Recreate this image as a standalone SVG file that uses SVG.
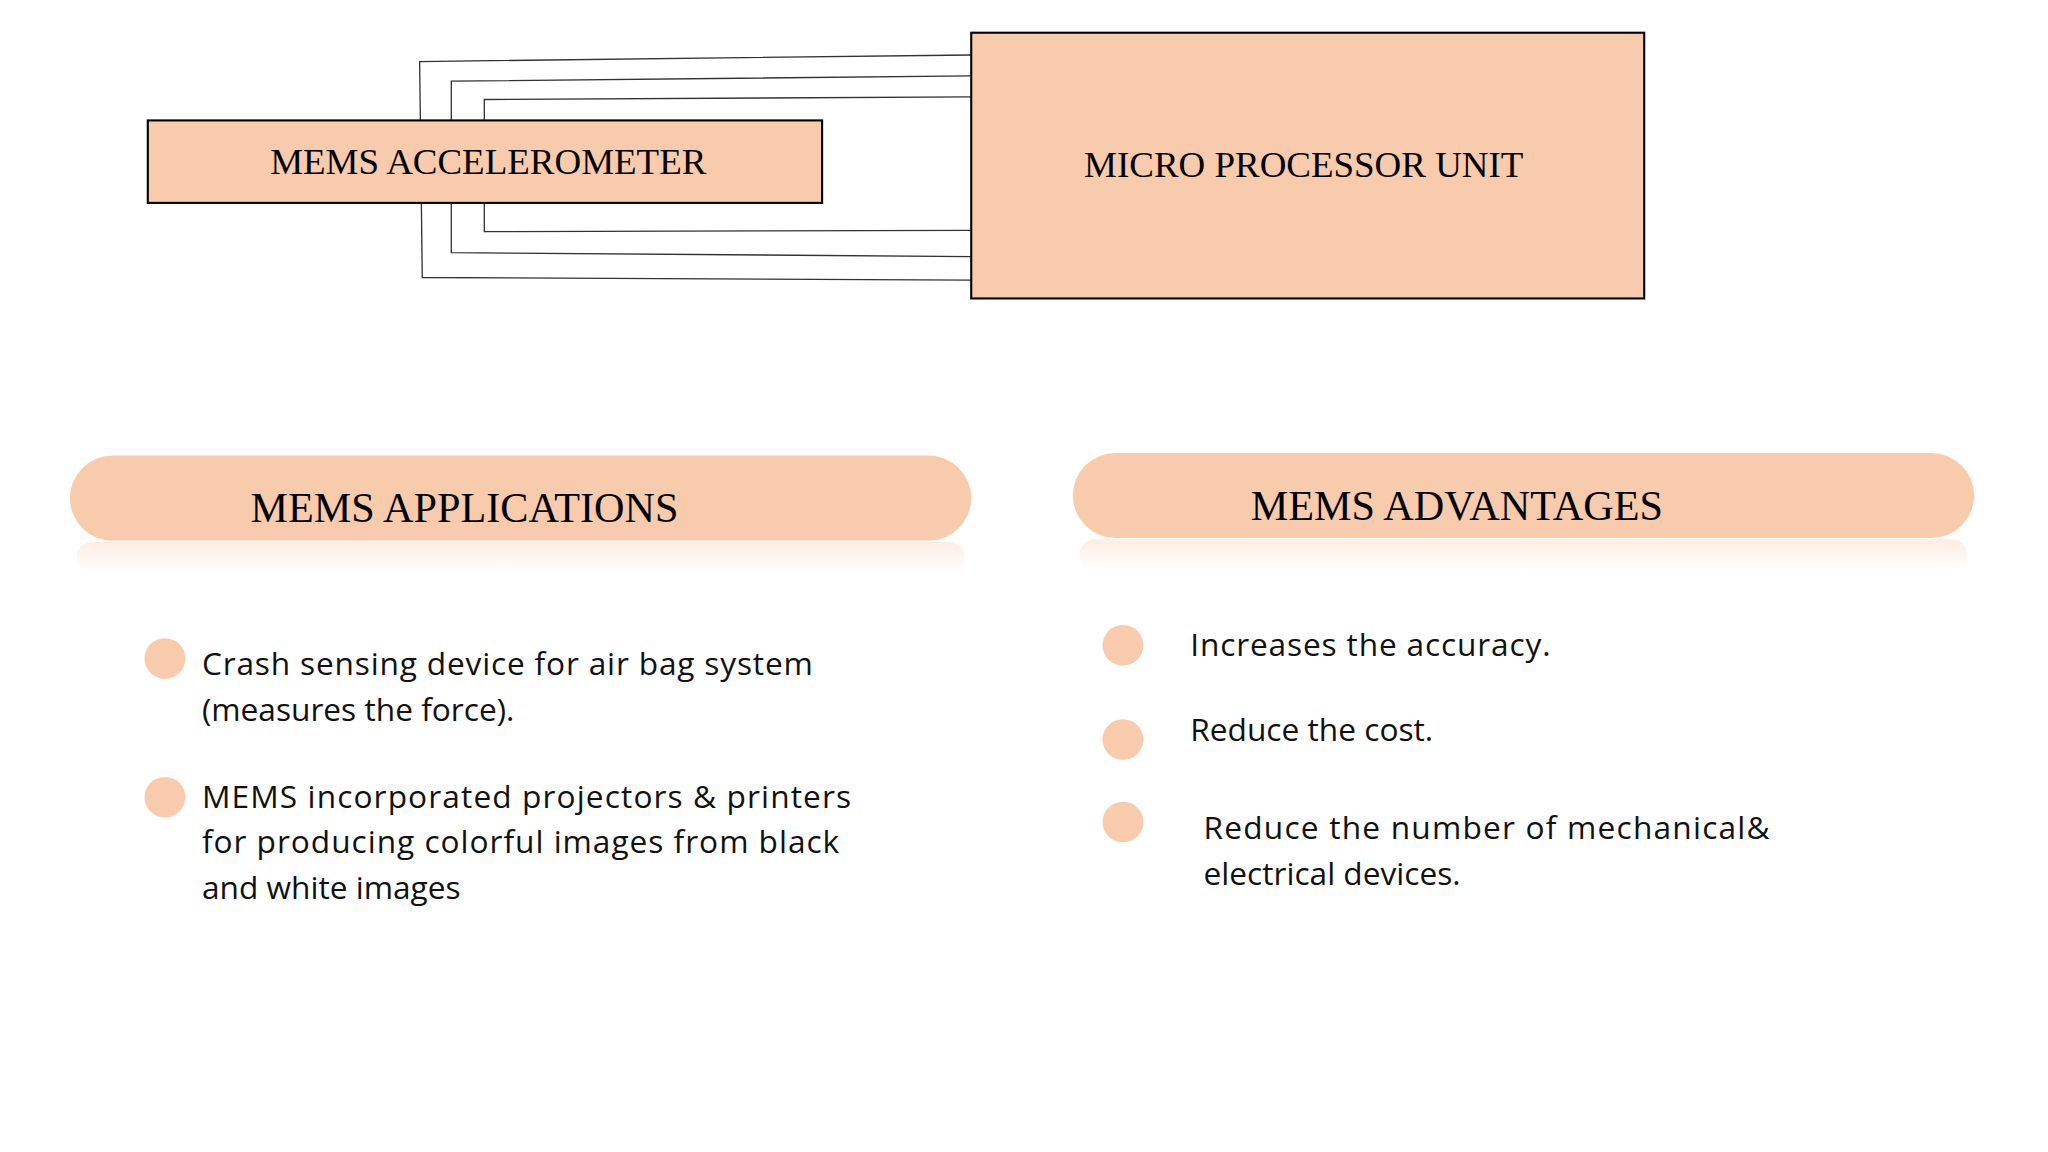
<svg xmlns="http://www.w3.org/2000/svg" width="2048" height="1152" viewBox="0 0 2048 1152">
<style>
.box{fill:#F8CBAD;stroke:#000;stroke-width:1.6}
.pill{fill:#F8CBAD}
.ser{font-family:"Liberation Serif",serif;fill:#000}
.san{font-family:"Open Sans","Noto Sans",sans-serif;font-size:24px;fill:#111}
.w{fill:none;stroke:#333;stroke-width:1}
.dot{fill:#F8CBAD}
</style>
<defs>
<linearGradient id="refl" x1="0" y1="0" x2="0" y2="1">
<stop offset="0" stop-color="#F8CBAD" stop-opacity="0.35"/>
<stop offset="1" stop-color="#F8CBAD" stop-opacity="0"/>
</linearGradient>
</defs>
<rect width="2048" height="1152" fill="#fff"/>
<g transform="scale(1.3196,1.309)">
<g id="connectors">
<polyline class="w" points="736,42 318,47 320,212 736,214"/>
<polyline class="w" points="736,58 342,62 342,193 736,196"/>
<polyline class="w" points="736,74 367,76 367,177 736,176"/>
</g>
<g id="accel">
<rect class="box" x="112" y="92" width="511" height="63"/>
<text class="ser" x="370" y="133" font-size="28" text-anchor="middle">MEMS ACCELEROMETER</text>
</g>
<g id="mpu">
<rect class="box" x="736" y="25" width="510" height="203"/>
<text class="ser" x="988" y="135" font-size="28" text-anchor="middle">MICRO PROCESSOR UNIT</text>
</g>
<g id="applications">
<rect x="58" y="414" width="673" height="24" rx="12" fill="url(#refl)"/>
<rect class="pill" x="53" y="348" width="683" height="65" rx="32.5"/>
<text class="ser" x="352" y="399" font-size="32" text-anchor="middle">MEMS APPLICATIONS</text>
<circle class="dot" cx="125" cy="503" r="15.5"/>
<text class="san" x="153" y="516" textLength="463">Crash sensing device for air bag system</text>
<text class="san" x="153" y="551">(measures the force).</text>
<circle class="dot" cx="125" cy="609" r="15.5"/>
<text class="san" x="153" y="617" textLength="492">MEMS incorporated projectors &amp; printers</text>
<text class="san" x="153" y="652" textLength="483">for producing colorful images from black</text>
<text class="san" x="153" y="687">and white images</text>
</g>
<g id="advantages">
<rect x="818" y="412" width="673" height="24" rx="12" fill="url(#refl)"/>
<rect class="pill" x="813" y="346" width="683" height="65" rx="32.5"/>
<text class="ser" x="1104" y="397" font-size="32" text-anchor="middle">MEMS ADVANTAGES</text>
<circle class="dot" cx="851" cy="493" r="15.5"/>
<text class="san" x="902" y="501" textLength="273">Increases the accuracy.</text>
<circle class="dot" cx="851" cy="565" r="15.5"/>
<text class="san" x="902" y="566">Reduce the cost.</text>
<circle class="dot" cx="851" cy="628" r="15.5"/>
<text class="san" x="912" y="641" textLength="429">Reduce the number of mechanical&amp;</text>
<text class="san" x="912" y="676">electrical devices.</text>
</g>
</g>
</svg>
